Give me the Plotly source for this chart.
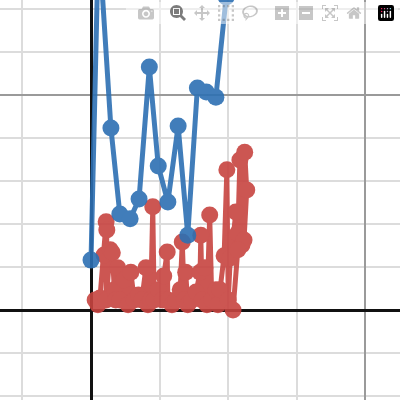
import plotly.graph_objects as go

blue_x = [0, 0.11, 0.29, 0.42, 0.57, 0.70, 0.85, 0.98, 1.12, 1.27, 1.41, 1.55, 1.68, 1.82, 1.97]
blue_y = [1.16, 8.72, 4.23, 2.23, 2.12, 2.58, 5.65, 3.35, 2.51, 4.28, 1.74, 5.16, 5.07, 4.95, 7.28]

red_x = [0.06, 0.10, 0.13, 0.19, 0.22, 0.23, 0.22, 0.28, 0.31, 0.34, 0.36, 0.39, 0.42, 0.48, 0.54,
         0.58, 0.63, 0.69, 0.74, 0.80, 0.83, 0.87, 0.90, 0.92, 0.98, 1.04, 1.06, 1.11, 1.12, 1.18,
         1.24, 1.30, 1.33, 1.36, 1.38, 1.41, 1.47, 1.53, 1.59, 1.60, 1.62, 1.66, 1.69, 1.73, 1.76,
         1.82, 1.85, 1.88, 1.94, 1.98, 2.00, 2.03, 2.07, 2.11, 2.14, 2.17, 2.20, 2.24, 2.27, 2.23,
         2.14, 2.07]
red_y = [0.23, 0.12, 0.28, 1.28, 2.05, 1.86, 0.23, 1.40, 1.33, 0.47, 0.23, 0.98, 0.23, 0.70, 0.12,
         0.88, 0.23, 0.35, 0.23, 0.98, 0.12, 0.23, 2.40, 0.23, 0.47, 0.23, 0.79, 1.35, 0.23, 0.12,
         0.23, 0.47, 1.58, 0.23, 0.88, 0.12, 0.23, 0.42, 0.88, 1.74, 0.23, 0.98, 0.12, 2.21, 0.23,
         0.47, 0.12, 0.47, 1.26, 3.26, 0.23, 1.21, 1.63, 2.28, 1.79, 3.49, 1.51, 3.67, 2.79, 1.63,
         1.40, 0.0]

fig = go.Figure()
fig.add_trace(go.Scatter(x=red_x, y=red_y, mode="lines+markers",
                         line=dict(color="#c74440", width=5),
                         marker=dict(color="#c74440", size=17),
                         opacity=0.9, showlegend=False))
fig.add_trace(go.Scatter(x=blue_x, y=blue_y, mode="lines+markers",
                         line=dict(color="#2d70b3", width=5),
                         marker=dict(color="#2d70b3", size=17),
                         opacity=0.9, showlegend=False))

fig.update_xaxes(range=[-1.327, 4.504], dtick=4, tick0=0, gridcolor="#9a9a9a", gridwidth=1.5,
                 minor=dict(dtick=1, gridcolor="#dcdcdc", gridwidth=1.5),
                 zeroline=True, zerolinecolor="#111", zerolinewidth=2.5,
                 showticklabels=False, ticks="")
fig.update_yaxes(range=[-2.093, 7.209], dtick=5, tick0=0, gridcolor="#9a9a9a", gridwidth=1.5,
                 minor=dict(dtick=1, gridcolor="#dcdcdc", gridwidth=1.5),
                 zeroline=True, zerolinecolor="#111", zerolinewidth=2.5,
                 showticklabels=False, ticks="")
fig.update_layout(width=400, height=400, margin=dict(l=0, r=0, t=0, b=0),
                  plot_bgcolor="white", paper_bgcolor="white")

fig.write_html("out.html", post_script="document.body.style.margin='0';document.body.style.overflow='hidden';")
